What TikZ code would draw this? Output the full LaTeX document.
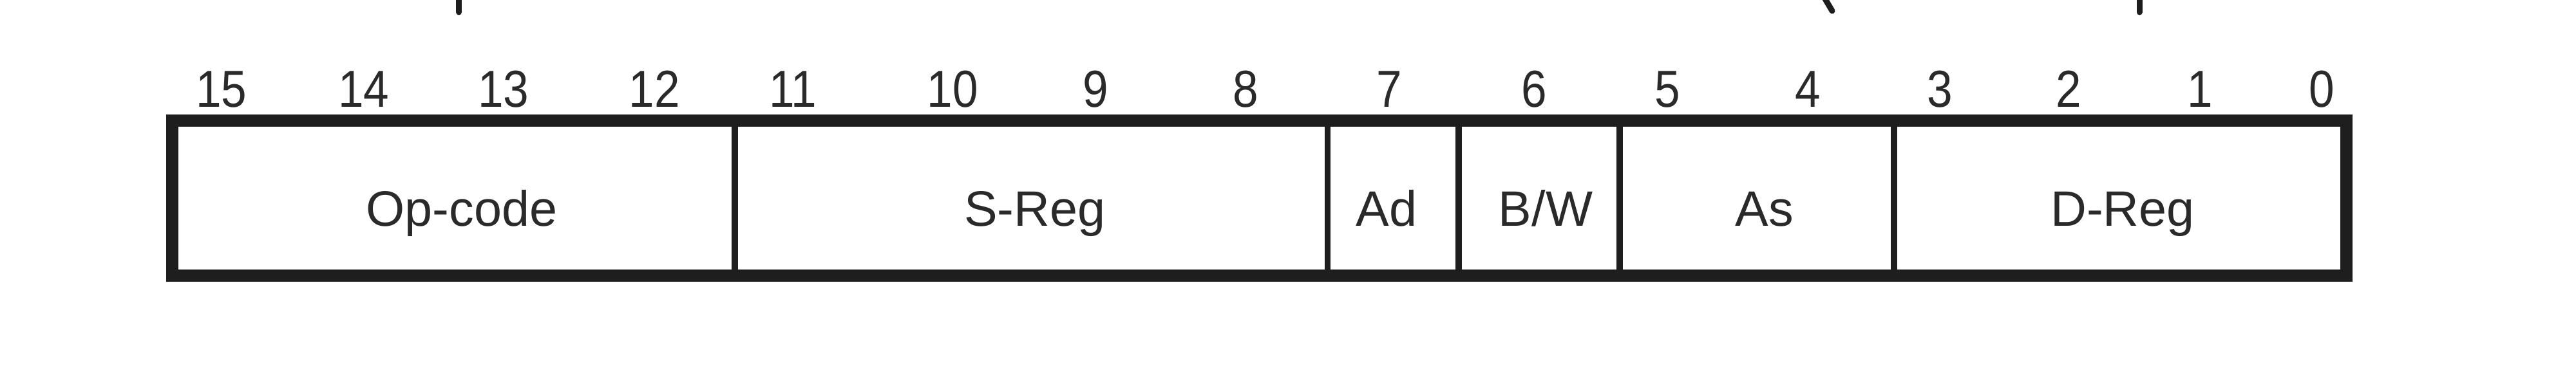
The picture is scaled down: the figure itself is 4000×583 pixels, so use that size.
\documentclass[tikz,border=0pt]{standalone}
\usepackage{fontspec}
\setmainfont{Liberation Sans}
\definecolor{ink}{HTML}{1E1E1E}
\definecolor{textink}{HTML}{2A2A2A}
\begin{document}
\begin{tikzpicture}[x=0.01cm,y=-0.01cm,
  frame/.style={draw=ink,line width=0.19cm,line join=miter},
  divider/.style={draw=ink,line width=0.095cm},
  frag/.style={draw=ink,line width=0.09cm,line cap=round},
  bitnum/.style={text=textink,font=\fontsize{23}{27}\selectfont,anchor=base,inner sep=0pt},
  field/.style={text=textink,font=\fontsize{22}{26}\selectfont,anchor=base,inner sep=0pt}]
\useasboundingbox (0,0) rectangle (4000,583);
% cut-off fragments of text above
\draw[frag] (712.5,-5) -- (712.5,19);
\draw[frag] (2832,-5) -- (2845,17);
\draw[frag] (3322,-5) -- (3322,19);
% outer frame
\coordinate (tl) at (267.5,187.5);
\coordinate (br) at (3643.5,429);
\draw[frame] (tl) rectangle (br);
% dividers
\foreach \x/\n in {1141/d1,2061.5/d2,2265/d3,2515/d4,2941/d5}{
  \coordinate (\n t) at (\x,197);
  \coordinate (\n b) at (\x,421);
  \draw[divider] (\n t) -- (\n b);
}
% bit numbers
\foreach \x/\t in {344/15,565/14,782/13,1016/12,1231/11,1479/10,1701/9,1934/8,2157/7,2382/6,2589/5,2807/4,3012/3,3212/2,3416/1,3605/0}{
  \node[bitnum] (b\t) at (\x,167) {\scalebox{0.88}[1]{\t}};
}
% field labels
\node[field] (opcode) at (717,352) {Op-code};
\node[field] (sreg) at (1607,352) {S-Reg};
\node[field] (ad) at (2153,352) {Ad};
\node[field] (bw) at (2400,352) {B/W};
\node[field] (as) at (2740,352) {As};
\node[field] (dreg) at (3296,352) {D-Reg};
\end{tikzpicture}
\end{document}
